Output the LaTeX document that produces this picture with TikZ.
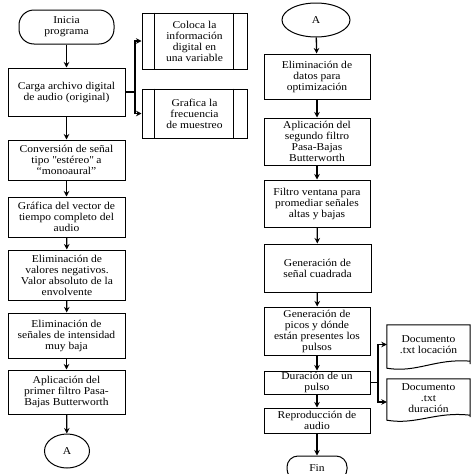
\documentclass[tikz,border=0pt]{standalone}
\usepackage{fontspec}
\setmainfont{Liberation Serif}[FakeStretch=1.1]
\usetikzlibrary{arrows.meta,shapes.geometric,calc}
\begin{document}
\begin{tikzpicture}[x=1pt,y=-1pt,
  font=\fontsize{10.5}{11}\selectfont,
  box/.style={draw, line width=1pt, align=center, inner sep=0pt},
  term/.style={box, rounded corners=15pt},
  conn/.style={draw, ellipse, line width=1pt, inner sep=0pt},
  txtbox/.style={align=center, inner sep=0pt},
  flow/.style={line width=1.3pt, -{Stealth[length=5.5pt,width=5.5pt]}},
  link/.style={line width=1.3pt}]
\useasboundingbox (0,0) rectangle (474,474);
% left column
\node[term, minimum width=95pt, minimum height=34pt] (start) at (66.5,27) {Inicia\\programa};
\node[box, minimum width=117pt, minimum height=48pt] (carga) at (66.5,92) {Carga archivo digital\\de audio (original)};
\node[box, minimum width=117pt, minimum height=40pt] (conv) at (66.5,160) {Conversión de señal\\tipo \textquotedbl estéreo\textquotedbl{} a\\“monoaural”};
\node[box, minimum width=117pt, minimum height=40pt] (graf) at (66.5,217) {Gráfica del vector de\\tiempo completo del\\audio};
\node[box, minimum width=117pt, minimum height=50pt] (elim1) at (67,275) {Eliminación de\\valores negativos.\\Valor absoluto de la\\envolvente};
\node[box, minimum width=117pt, minimum height=45pt] (elim2) at (66.5,335.5) {Eliminación de\\señales de intensidad\\muy baja};
\node[box, minimum width=117pt, minimum height=44pt] (aplic1) at (66.5,392) {Aplicación del\\primer filtro Pasa-\\Bajas Butterworth};
\node[conn, minimum width=45pt, minimum height=34pt] (A1) at (67,451) {A};
% predefined processes
\node[box, minimum width=105pt, minimum height=56pt] (p1) at (194.5,41) {Coloca la\\información\\digital en\\una variable};
\node[box, minimum width=105pt, minimum height=49pt] (p2) at (194.5,113.5) {Grafica la\\frecuencia\\de muestreo};
\foreach \p in {p1,p2}{
  \draw[line width=1pt] ($(\p.north west)+(13,0)$) -- ($(\p.south west)+(13,0)$);
  \draw[line width=1pt] ($(\p.north east)+(-14,0)$) -- ($(\p.south east)+(-14,0)$);
}
% right column
\node[conn, minimum width=68pt, minimum height=34pt] (A2) at (316,20) {A};
\node[box, minimum width=106pt, minimum height=45pt] (elimd) at (317,76.5) {Eliminación de\\datos para\\optimización};
\node[box, minimum width=106pt, minimum height=47pt] (aplic2) at (317,141.5) {Aplicación del\\segundo filtro\\Pasa-Bajas\\Butterworth};
\node[box, minimum width=106pt, minimum height=47pt] (filtro) at (317,203.5) {Filtro ventana para\\promediar señales\\altas y bajas};
\node[box, minimum width=107pt, minimum height=48pt] (gen) at (317.5,268) {Generación de\\señal cuadrada};
\node[box, minimum width=106pt, minimum height=48pt] (picos) at (317,331) {Generación de\\picos y dónde\\están presentes los\\pulsos};
\node[box, minimum width=106pt, minimum height=23pt, font=\fontsize{10.5}{10.5}\selectfont] (dur) at (317,382.5) {Duración de un\\pulso};
\node[box, minimum width=106pt, minimum height=25pt] (repro) at (317,420.5) {Reproducción de\\audio};
\node[term, minimum width=60pt, minimum height=24pt, rounded corners=11pt] (fin) at (317,468) {Fin};
% documents
\node[txtbox, minimum width=83pt, minimum height=39pt] (d1) at (428.5,344.5) {Documento\\.txt locación};
\node[txtbox, minimum width=83pt, minimum height=38pt] (d2) at (428.5,398) {Documento\\.txt\\duración};
\draw[line width=1pt] (d1.south east) -- (d1.north east) -- (d1.north west) -- ($(d1.south west)+(0,4)$)
  .. controls ($(d1.south west)+(30,9)$) and ($(d1.south east)+(-35,-6)$) .. ($(d1.south east)+(0,-3)$) -- (d1.south east);
\draw[line width=1pt] (d2.south east) -- (d2.north east) -- (d2.north west) -- ($(d2.south west)+(0,3)$)
  .. controls ($(d2.south west)+(30,8)$) and ($(d2.south east)+(-35,-6)$) .. ($(d2.south east)+(0,-2)$) -- (d2.south east);
% connectors
\draw[flow] (start) -- (carga);
\draw[flow] (carga) -- (conv);
\draw[flow] (conv) -- (graf);
\draw[flow] (graf) -- (elim1);
\draw[flow] (elim1) -- (elim2);
\draw[flow] (elim2) -- (aplic1);
\draw[flow] (aplic1) -- (A1);
\coordinate (j1) at (135,92);
\draw[link] (carga.east) -- (j1);
\draw[flow] (j1) |- (p1.west);
\draw[flow] (j1) |- (p2.west);
\draw[flow] (A2) -- (elimd);
\draw[flow] (elimd) -- (aplic2);
\draw[flow] (aplic2) -- (filtro);
\draw[flow] (filtro) -- (gen);
\draw[flow] (gen) -- (picos);
\draw[flow] (picos) -- (dur);
\draw[flow] (dur) -- (repro);
\draw[flow] (repro) -- (fin);
\coordinate (j2) at (378,382.5);
\draw[link] (dur.east) -- (j2);
\draw[flow] (j2) |- (d1.west);
\draw[flow] (j2) |- ($(d2.west)+(0,4)$);
\end{tikzpicture}
\end{document}
